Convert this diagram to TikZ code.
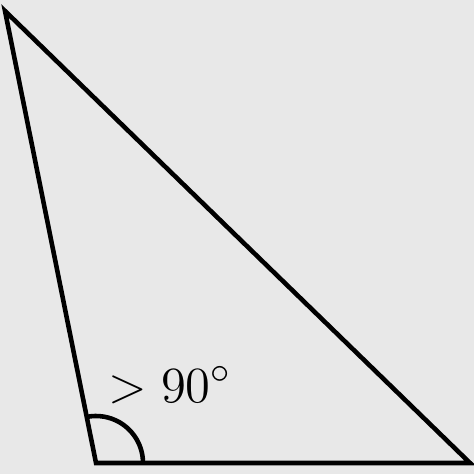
\documentclass[tikz,border=0pt]{standalone}
\usepackage{tikz}
\usetikzlibrary{positioning,calc}
\definecolor{bggray}{RGB}{232,232,232}
\tikzset{side/.style={draw=black,line width=1.3pt,line join=miter},
    anglemark/.style={draw=black,line width=1.3pt}}

\begin{document}
\begin{tikzpicture}[x=0.01cm,y=0.01cm]
		\fill[bggray] (0,0) rectangle (474,474);
		\useasboundingbox (0,0) rectangle (474,474);
		\coordinate (A) at (5,463);
		\coordinate (B) at (96,11);
		\coordinate (C) at (470,11);

		\draw[side] (A) -- (B) -- (C) -- cycle;
		\draw[anglemark] ($(B)+(47,0)$) arc[start angle=0,end angle=101.4,radius=47];
		\node (lbl) at (170,89) {\fontsize{15}{18}\selectfont $>90^\circ$};
	\end{tikzpicture}
\end{document}
